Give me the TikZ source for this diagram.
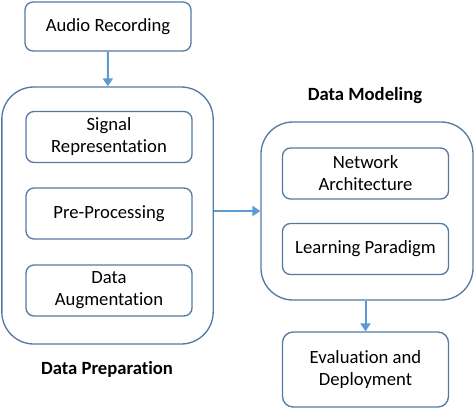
\documentclass[tikz,border=0pt]{standalone}
\usepackage{fontspec}
\setmainfont{Carlito}[Ligatures={NoCommon}]
\usepackage{tikz}
\usetikzlibrary{arrows.meta}
\definecolor{boxline}{RGB}{84,122,163}
\definecolor{flow}{RGB}{91,155,213}

\begin{document}
\begin{tikzpicture}[
x=0.75pt, y=-0.75pt,
box/.style={draw=boxline, line width=1pt, rounded corners=6pt, minimum width=124.5pt, minimum height=38.25pt, align=center, inner sep=0pt, font=\fontsize{14}{16.5}\selectfont},
group/.style={draw=boxline, line width=1pt, rounded corners=24pt, minimum width=158.5pt, inner sep=0pt},
title/.style={font=\fontsize{14}{16.5}\selectfont\bfseries},
arrow/.style={-{Triangle[length=6pt, width=7.5pt]}, line width=1.5pt, flow}
]
\useasboundingbox (0,0) rectangle (474,408);
% left column
\node[box, minimum height=36.75pt] (audio) at (108,26.5) {Audio Recording};
\node[group, minimum height=192.75pt] (prep) at (107.5,215.5) {};
\node[box] (signal) at (109,137) {Signal\\Representation};
\node[box] (preproc) at (109,213.5) {Pre-Processing};
\node[box] (augment) at (109,290.5) {Data\\Augmentation};
\node[title] (preplabel) at (107,369) {Data Preparation};
% right column
\node[title] (modlabel) at (365,96) {Data Modeling};
\node[group, minimum width=159pt, minimum height=133.5pt] (model) at (367,211) {};
\node[box] (network) at (365.5,173.5) {Network\\Architecture};
\node[box] (paradigm) at (365.5,249) {Learning Paradigm};
\node[box, minimum height=56.25pt, rounded corners=8pt] (deploy) at (365.5,369.5) {Evaluation and\\Deployment};
% flow
\draw[arrow] (audio) -- (prep);
\draw[arrow] (prep.east |- model.west) -- (model.west);
\draw[arrow] (model.south -| deploy.north) -- (deploy.north);
\end{tikzpicture}
\end{document}
